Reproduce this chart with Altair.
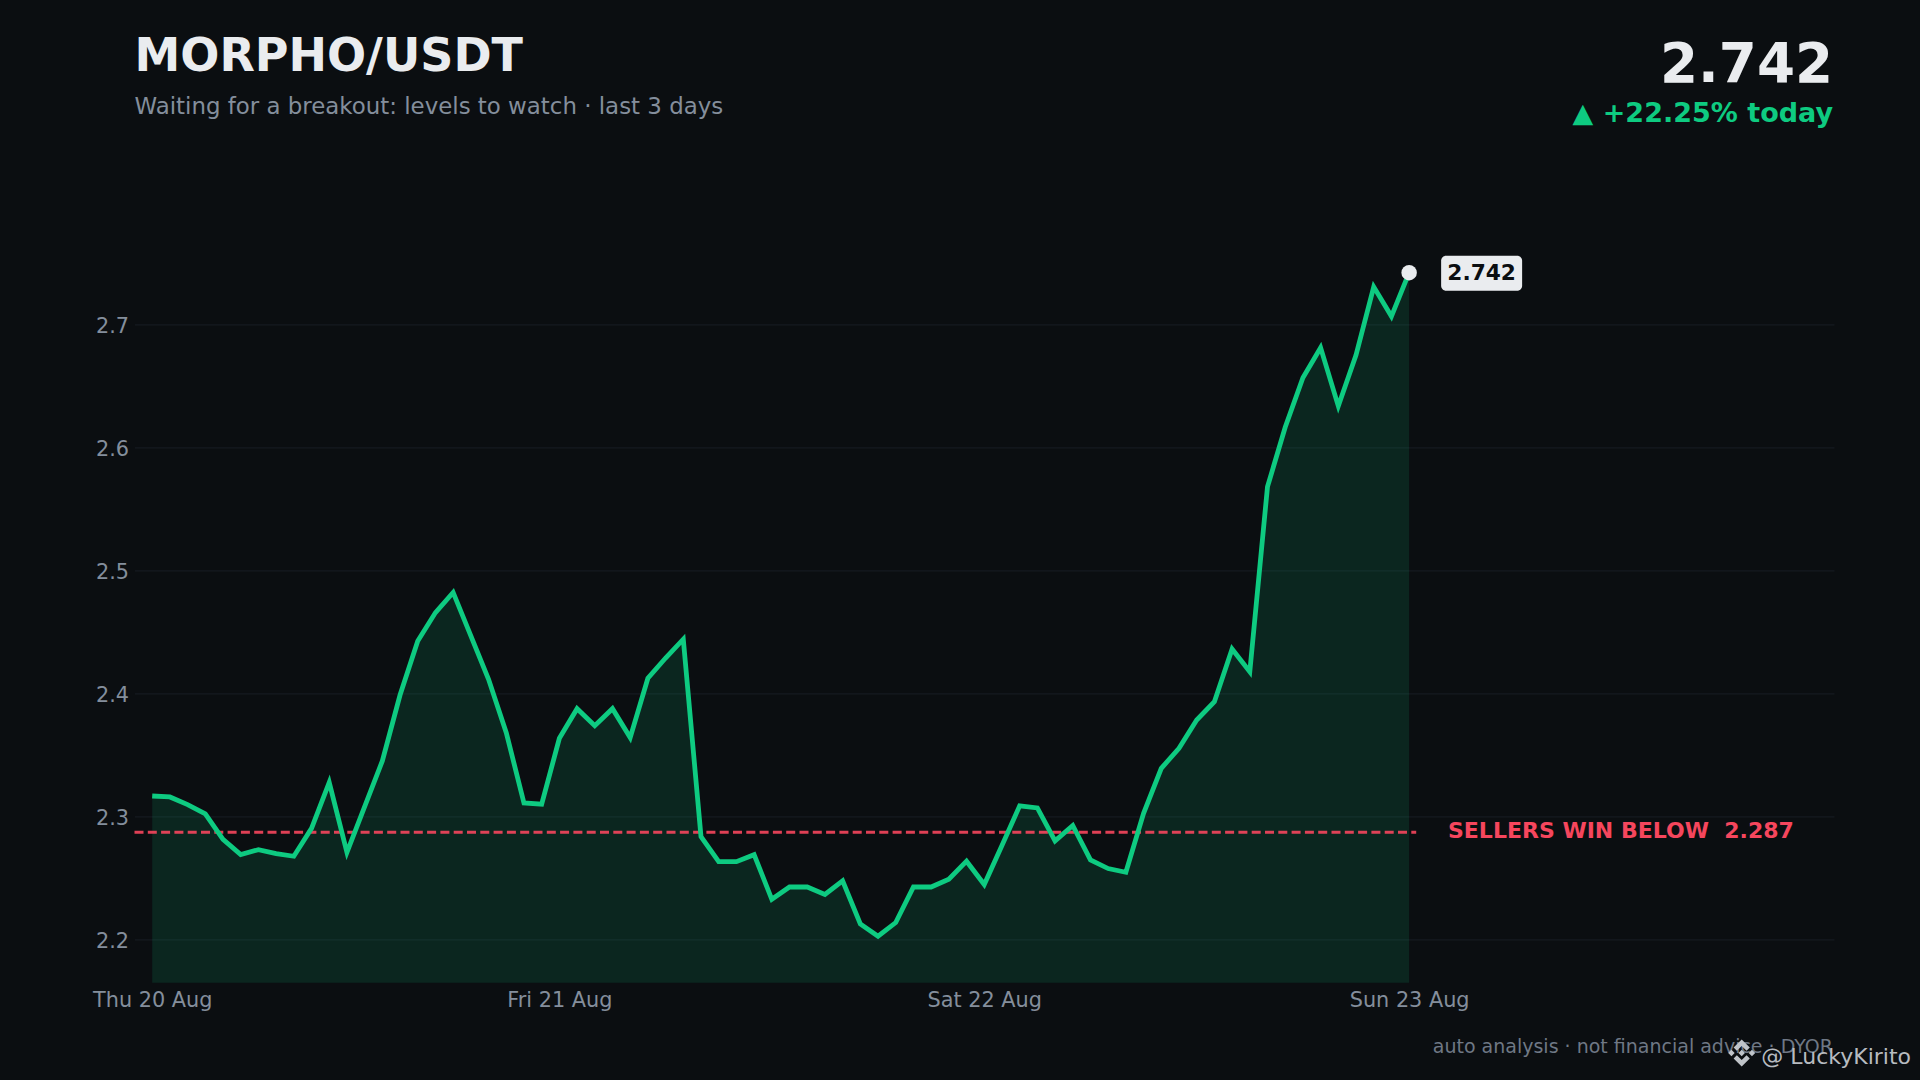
import altair as alt
import pandas as pd

prices = [2.3165,2.3157,2.3095,2.3019,2.2813,2.2688,2.2729,2.2696,2.2675,2.2902,2.3275,2.2707,
2.3079,2.345,2.3986,2.4425,2.4656,2.4820,2.4466,2.4114,2.368,2.3108,2.3098,2.3634,
2.3875,2.3737,2.3875,2.3640,2.4122,2.4287,2.4440,2.2835,2.2631,2.2631,2.2688,2.2325,
2.2425,2.2425,2.2365,2.2475,2.2125,2.2025,2.2136,2.2425,2.2425,2.2488,2.2635,2.2445,
2.2762,2.3085,2.3068,2.2800,2.2925,2.2645,2.2575,2.2545,2.3024,2.339,2.3553,2.3783,
2.3932,2.4360,2.4175,2.5680,2.6163,2.6565,2.6810,2.6335,2.6750,2.7305,2.7065,2.742]
hours = list(range(len(prices)))
date_positions = [0, 23, 47, 71]
date_labels = ["Thu 20 Aug", "Fri 21 Aug", "Sat 22 Aug", "Sun 23 Aug"]
price_ticks = [2.2, 2.3, 2.4, 2.5, 2.6, 2.7]
last_price = 2.742
support = 2.287

BG = "#0b0e11"; GREEN = "#0ecb81"; RED = "#f6465d"; WHITE = "#eaecef"; GREY = "#848e9c"
FONT = "DejaVu Sans"
PLOT_W, PLOT_H = 1699.5, 781.4
LEFT, TOP = 134.5, 201.3
BINANCE = ("M0 -1L0.6 -0.4L0.36 -0.16L0 -0.52L-0.36 -0.16L-0.6 -0.4Z"
           "M0 1L0.6 0.4L0.36 0.16L0 0.52L-0.36 0.16L-0.6 0.4Z"
           "M0 -0.24L0.24 0L0 0.24L-0.24 0Z"
           "M-0.76 -0.24L-0.52 0L-0.76 0.24L-1 0Z"
           "M0.76 -0.24L1 0L0.76 0.24L0.52 0Z")

df = pd.DataFrame({"h": hours, "p": prices, "base": [2.1647] * len(prices)})
xs = alt.Scale(domain=[-1, 95], nice=False, zero=False)
ys = alt.Scale(domain=[2.1647, 2.80], nice=False, zero=False)
label_expr = "{" + ",".join(f"'{p}':'{l}'" for p, l in zip(date_positions, date_labels)) + "}[datum.value]"
X = alt.X("h:Q", scale=xs, axis=alt.Axis(values=date_positions, labelExpr=label_expr, grid=False, ticks=False,
    domain=False, title=None, labelColor=GREY, labelFont=FONT, labelFontSize=20.8, labelPadding=7.5, labelFlush=False, labelOverlap=False))
Y = alt.Y("p:Q", scale=ys, axis=alt.Axis(values=price_ticks, format=".1f", grid=True, gridColor="#161a20", gridWidth=1.2, ticks=False,
    domain=False, title=None, labelColor=GREY, labelFont=FONT, labelFontSize=20.8, labelPadding=6, labelOffset=2))

area = alt.Chart(df).mark_area(color=GREEN, opacity=0.13).encode(x=X, y=Y, y2="base:Q")
rule = alt.Chart(pd.DataFrame({"a": [-1], "b": [71.4], "v": [support]})).mark_rule(
    color=RED, opacity=0.9, strokeWidth=2.8, strokeDash=[9, 4.3]).encode(
    x=alt.X("a:Q", scale=xs), x2="b:Q", y=alt.Y("v:Q", scale=ys))
line = alt.Chart(df).mark_line(color=GREEN, strokeWidth=4.8, strokeJoin="miter").encode(x=X, y=Y)
last = pd.DataFrame({"h": [hours[-1]], "p": [last_price]})
dot = alt.Chart(last).mark_circle(color=WHITE, opacity=1, size=240).encode(x=alt.X("h:Q", scale=xs), y=alt.Y("p:Q", scale=ys))
box = alt.Chart(last).mark_rect(color=WHITE, width=81, height=35, cornerRadius=5, xOffset=72.5, yOffset=0.5).encode(
    x=alt.X("h:Q", scale=xs), y=alt.Y("p:Q", scale=ys))
tag = alt.Chart(last).mark_text(color=BG, font=FONT, fontWeight="bold", fontSize=21.7, dx=72.5, dy=0.5).encode(
    x=alt.X("h:Q", scale=xs), y=alt.Y("p:Q", scale=ys), text=alt.value(f"{last_price:.3f}"))

def label(text, px, base, size, color, weight="normal", align="left", opacity=1):
    return alt.Chart(pd.DataFrame({"t": [text]})).mark_text(
        font=FONT, fontSize=size, color=color, fontWeight=weight, align=align, baseline="alphabetic", opacity=opacity
    ).encode(x=alt.value(px - LEFT), y=alt.value(base - TOP), text="t:N")

icon = alt.Chart(pd.DataFrame({"i": [0]})).mark_point(shape=BINANCE, filled=True, size=729, color="#bfc3c8", opacity=1).encode(
    x=alt.value(1741.7 - LEFT), y=alt.value(1053 - TOP))

texts = [
    label("MORPHO/USDT", 134.5, 70.5, 46, WHITE, "bold"),
    label("Waiting for a breakout: levels to watch · last 3 days", 134.5, 113.5, 22.9, GREY),
    label("2.742", 1833, 82, 54.7, WHITE, "bold", "right"),
    label("▲ +22.25% today", 1833, 121.5, 27, GREEN, "bold", "right"),
    label("SELLERS WIN BELOW\u00a0\u00a02.287", 1448, 838, 22, RED, "bold"),
    label("auto analysis · not financial advice · DYOR", 1833, 1053, 19, "#6f7885", "normal", "right"),
    label("@ LuckyKirito", 1911, 1064, 22, "#b7bbc0", "normal", "right"),
]

chart = alt.layer(area, rule, line, dot, box, tag, *texts, icon).properties(
    width=PLOT_W, height=PLOT_H, background=BG,
    padding={"left": LEFT - 8, "top": TOP - 8, "right": 1904 - (LEFT - 8) - PLOT_W, "bottom": 1064 - (TOP - 8) - PLOT_H},
    autosize=alt.AutoSizeParams(type="none"),
).configure_view(stroke=None)

chart.save("out.html", embed_options={"renderer": "svg", "actions": False,
    "defaultStyle": "html,body{background:#0b0e11;overflow:hidden}"})
